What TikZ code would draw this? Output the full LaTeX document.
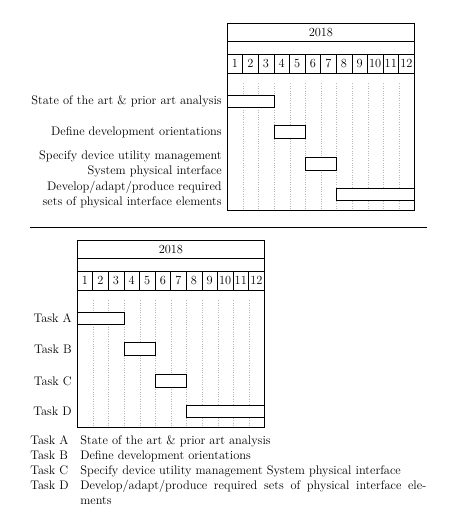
\documentclass[tikz,border=0pt]{standalone}
\usetikzlibrary{positioning}
\tikzset{
  yearbox/.style={draw,anchor=north west,minimum width=187.2pt,minimum height=18pt,inner sep=0pt},
  month/.style={draw,minimum width=15.6pt,minimum height=19pt,inner sep=0pt},
  chartframe/.style={draw,anchor=north west,minimum width=187.2pt,minimum height=187pt,inner sep=0pt},
  monthline/.style={dotted,gray!55,line width=0.4pt},
  taskbar/.style={draw,fill=white,anchor=west,minimum height=12.5pt,inner sep=0pt},
  tasklabel/.style={anchor=east,align=right,inner sep=0pt}
}
\begin{document}
\begin{tikzpicture}[x=1pt,y=-1pt,font=\fontsize{12.4}{15}\selectfont,line width=0.6pt]
  \useasboundingbox (0,0) rectangle (474,527);

  % first chart
  \begin{scope}[shift={(227,23)}]
    \node[chartframe] (tframe) at (0,0) {};
    \node[yearbox] (tyear) at (0,0) {2018};
    \foreach \m in {1,...,12}
      \node[month] (tm\m) at ({(\m-0.5)*15.6},40.5) {\m};
    \foreach \m in {1,...,11}
      \draw[monthline] (tm\m.south east) ++(0,10) -- ++(0,127);

    \node[taskbar,minimum width=46.8pt] (tbar1) at (0,78.5) {};
    \node[taskbar,minimum width=31.2pt] (tbar2) at (46.8,109) {};
    \node[taskbar,minimum width=31.2pt] (tbar3) at (78,141) {};
    \node[taskbar,minimum width=78pt]   (tbar4) at (109.2,171.5) {};

    \node[tasklabel] (tlab1) at (-5,78.5) {State of the art \& prior art analysis};
    \node[tasklabel] (tlab2) at (-5,109) {Define development orientations};
    \node[tasklabel] (tlab3) at (-5,141) {Specify device utility management\\System physical interface};
    \node[tasklabel] (tlab4) at (-5,171.5) {Develop/adapt/produce required\\sets of physical interface elements};
  \end{scope}

  \coordinate (sepl) at (30,227);
  \coordinate (sepr) at (427,227);
  \draw (sepl) -- (sepr);

  % second chart
  \begin{scope}[shift={(77,240)}]
    \node[chartframe] (bframe) at (0,0) {};
    \node[yearbox] (byear) at (0,0) {2018};
    \foreach \m in {1,...,12}
      \node[month] (bm\m) at ({(\m-0.5)*15.6},40.5) {\m};
    \foreach \m in {1,...,11}
      \draw[monthline] (bm\m.south east) ++(0,10) -- ++(0,127);

    \node[taskbar,minimum width=46.8pt] (bbar1) at (0,78.5) {};
    \node[taskbar,minimum width=31.2pt] (bbar2) at (46.8,109) {};
    \node[taskbar,minimum width=31.2pt] (bbar3) at (78,141) {};
    \node[taskbar,minimum width=78pt]   (bbar4) at (109.2,171.5) {};

    \node[tasklabel] (blab1) at (-5,78.5) {Task A};
    \node[tasklabel] (blab2) at (-5,109) {Task B};
    \node[tasklabel] (blab3) at (-5,141) {Task C};
    \node[tasklabel] (blab4) at (-5,171.5) {Task D};
  \end{scope}

  \node[anchor=north west,inner sep=0pt] (legend) at (30,434) {%
    \begin{tabular}{@{}p{50pt}@{}p{346pt}@{}}
      Task A & State of the art \& prior art analysis\\
      Task B & Define development orientations\\
      Task C & Specify device utility management System physical interface\\
      Task D & Develop/adapt/produce required sets of physical interface ele-\linebreak ments
    \end{tabular}};
\end{tikzpicture}
\end{document}
